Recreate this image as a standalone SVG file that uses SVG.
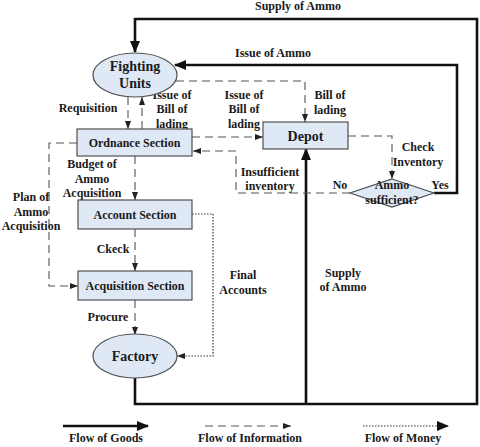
<svg xmlns="http://www.w3.org/2000/svg" width="480" height="447" viewBox="0 0 480 447">
<defs>
<style>
.t{font-family:"Liberation Serif","Times New Roman",serif;font-weight:bold;font-size:12px;fill:#1a1a1a;text-anchor:middle}
.big{font-size:14px}
.box{fill:#dfe9f5;stroke:#505050;stroke-width:1.2}
.goods{fill:none;stroke:#111;stroke-width:2.6}
.info{fill:none;stroke:#555;stroke-width:1.1;stroke-dasharray:8 5}
.money{fill:none;stroke:#333;stroke-width:1.2;stroke-dasharray:1.5 1.5}
</style>
<marker id="ag" markerUnits="userSpaceOnUse" markerWidth="12" markerHeight="10" refX="11" refY="5" orient="auto"><path d="M0,0 L12,5 L0,10 z" fill="#111"/></marker>
<marker id="ai" markerUnits="userSpaceOnUse" markerWidth="8" markerHeight="6" refX="8" refY="3" orient="auto"><path d="M0,0 L8,3 L0,6 z" fill="#222"/></marker>
</defs>
<rect width="480" height="447" fill="#fff"/>
<g id="connectors">
<path class="goods" d="M135,378 V404 H477 V19 H135 V52" marker-end="url(#ag)"/>
<path class="goods" d="M306,404 V149" marker-end="url(#ag)"/>
<path class="goods" d="M434,193 H457 V65 H175" marker-end="url(#ag)"/>
<path class="info" d="M176,81 H305 V122" marker-end="url(#ai)"/>
<path class="info" d="M128,97 V129" marker-end="url(#ai)"/>
<path class="info" d="M142,129 V97" marker-end="url(#ai)"/>
<path class="info" d="M192,137 H263" marker-end="url(#ai)"/>
<path class="info" d="M348,136 H392 V179" marker-end="url(#ai)"/>
<path class="info" d="M350,193 H236 V151 H193" marker-end="url(#ai)"/>
<path class="info" d="M135,156 V200" marker-end="url(#ai)"/>
<path class="info" d="M135,229 V271" marker-end="url(#ai)"/>
<path class="info" d="M135,300 V335" marker-end="url(#ai)"/>
<path class="info" d="M77,143 H49 V286 H78" marker-end="url(#ai)"/>
<path class="money" d="M192,214 H213 V356 H177" marker-end="url(#ai)"/>
<text class="t" x="298" y="10">Supply of Ammo</text>
<text class="t" x="273" y="57">Issue of Ammo</text>
<text class="t" x="88" y="112">Requisition</text>
<text class="t" x="172" y="99">Issue of</text>
<text class="t" x="172" y="113">Bill of</text>
<text class="t" x="172" y="128">lading</text>
<text class="t" x="244" y="99">Issue of</text>
<text class="t" x="244" y="113">Bill of</text>
<text class="t" x="244" y="128">lading</text>
<text class="t" x="330" y="99">Bill of</text>
<text class="t" x="330" y="114">lading</text>
<text class="t" x="418" y="151">Check</text>
<text class="t" x="418" y="166">Inventory</text>
<text class="t" x="270" y="176">Insufficient</text>
<text class="t" x="270" y="190">inventory</text>
<text class="t" x="340" y="189">No</text>
<text class="t" x="440" y="189">Yes</text>
<text class="t" x="92" y="168">Budget of</text>
<text class="t" x="92" y="183">Ammo</text>
<text class="t" x="92" y="197">Acquisition</text>
<text class="t" x="31" y="201">Plan of</text>
<text class="t" x="31" y="216">Ammo</text>
<text class="t" x="31" y="230">Acquisition</text>
<text class="t" x="113" y="253">Ckeck</text>
<text class="t" x="243" y="279">Final</text>
<text class="t" x="243" y="294">Accounts</text>
<text class="t" x="343" y="277">Supply</text>
<text class="t" x="343" y="291">of Ammo</text>
<text class="t" x="108" y="321">Procure</text>
</g>
<g id="fighting-units">
<ellipse class="box" cx="135" cy="75" rx="42" ry="22"/>
<text class="t big" x="135" y="71">Fighting</text>
<text class="t big" x="135" y="88">Units</text>
</g>
<g id="ordnance-section">
<rect class="box" x="77" y="129" width="115" height="27"/>
<text class="t" x="134.5" y="147">Ordnance Section</text>
</g>
<g id="depot">
<rect class="box" x="263" y="122" width="85" height="27"/>
<text class="t big" x="305.5" y="141">Depot</text>
</g>
<g id="ammo-sufficient">
<polygon class="box" points="392,179 434,193 392,207 350,193"/>
<text class="t" x="392" y="189">Ammo</text>
<text class="t" x="392" y="204">sufficient?</text>
</g>
<g id="account-section">
<rect class="box" x="78" y="200" width="114" height="29"/>
<text class="t" x="135" y="218.5">Account Section</text>
</g>
<g id="acquisition-section">
<rect class="box" x="78" y="271" width="114" height="29"/>
<text class="t" x="135" y="289.5">Acquisition Section</text>
</g>
<g id="factory">
<ellipse class="box" cx="135" cy="356" rx="42" ry="22"/>
<text class="t big" x="135" y="361">Factory</text>
</g>
<g id="legend">
<path class="goods" d="M63,426 H148" marker-end="url(#ag)"/>
<path class="info" d="M205,426 H291" marker-end="url(#ai)"/>
<path class="money" d="M363,426 H448" marker-end="url(#ag)"/>
<text class="t" x="106" y="442">Flow of Goods</text>
<text class="t" x="250" y="442">Flow of Information</text>
<text class="t" x="403" y="442">Flow of Money</text>
</g>
</svg>
